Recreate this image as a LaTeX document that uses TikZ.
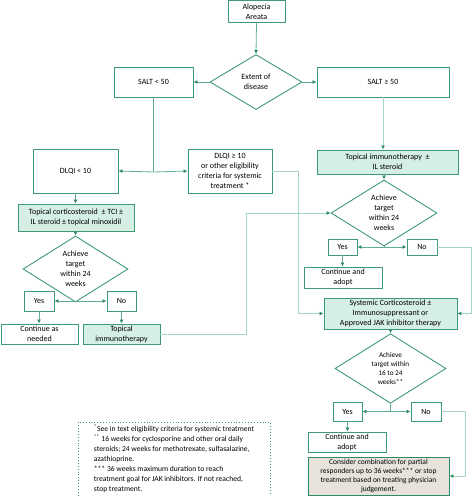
\documentclass[tikz,border=0pt]{standalone}
\usepackage{fontspec}
\setmainfont{Carlito}
\usetikzlibrary{arrows.meta,shapes.geometric,calc}
\definecolor{frameg}{HTML}{3E9A76}
\definecolor{arrowg}{HTML}{2E8A66}
\definecolor{lineg}{HTML}{5FAE8E}
\definecolor{paleg}{HTML}{A3D6C2}
\definecolor{fillg}{HTML}{D6EFE4}
\definecolor{beige}{HTML}{E7E3DB}
\tikzset{
  box/.style={draw=frameg, line width=0.9pt, rectangle, inner sep=1pt, align=center,
    font=\fontsize{8}{10}\selectfont},
  fbox/.style={box, fill=fillg},
  dia/.style={draw=frameg, line width=0.9pt, diamond, inner sep=0pt, align=center,
    font=\fontsize{8}{10}\selectfont},
  con/.style={draw=lineg, line width=0.8pt, -{Latex[length=4pt,width=4pt,color=arrowg]}},
  conp/.style={draw=paleg, line width=0.8pt, -{Latex[length=4pt,width=4pt,color=arrowg]}},
  seg/.style={draw=lineg, line width=0.8pt},
}
\begin{document}
\begin{tikzpicture}[x=1pt,y=-1pt]
\useasboundingbox (0,0) rectangle (474,496);
% boxes
\node[box, minimum width=57pt, minimum height=22pt] (aa) at (256.5,11.8) {Alopecia\\Areata};
\node[dia, minimum width=92pt, minimum height=55pt] (ext) at (256,82) {Extent of\\disease};
\node[box, minimum width=79pt, minimum height=30pt] (salt1) at (153.5,82) {SALT < 50};
\node[box, minimum width=132pt, minimum height=30pt] (salt2) at (383,82) {SALT ≥ 50};
\node[box, minimum width=85pt, minimum height=44pt] (dlqi1) at (75.5,171) {DLQI < 10};
\node[box, minimum width=84pt, minimum height=44pt] (dlqi2) at (230,171) {DLQI ≥ 10\\or other eligibility\\criteria for systemic\\treatment *};
\node[fbox, minimum width=116pt, minimum height=27pt] (tc) at (76,217.5) {Topical corticosteroid\ \ ± TCI ±\\IL steroid ± topical minoxidil};
\node[dia, minimum width=105pt, minimum height=54pt] (d1) at (75.5,269) {Achieve\\target\\within 24\\weeks};
\node[box, minimum width=30pt, minimum height=20pt] (yes1) at (39,301) {Yes};
\node[box, minimum width=29pt, minimum height=20pt] (no1) at (121.5,301) {No};
\node[box, minimum width=77pt, minimum height=20pt] (cont1) at (39.5,334) {Continue as\\needed};
\node[fbox, minimum width=77pt, minimum height=20pt] (ti1) at (121.5,334) {Topical\\immunotherapy};
\node[fbox, minimum width=141pt, minimum height=24pt] (til) at (387.5,162) {Topical immunotherapy\ \ ±\\IL steroid};
\node[dia, minimum width=106pt, minimum height=52pt] (d2) at (384,213) {Achieve\\target\\within 24\\weeks};
\node[box, minimum width=29pt, minimum height=16pt] (yes2) at (342.5,247) {Yes};
\node[box, minimum width=30pt, minimum height=16pt] (no2) at (422,247) {No};
\node[box, minimum width=78pt, minimum height=21pt] (cont2) at (343,277.5) {Continue and\\adopt};
\node[fbox, minimum width=133pt, minimum height=31pt] (sys) at (390.5,313.5) {Systemic Corticosteroid ±\\Immunosuppressant or\\Approved JAK inhibitor therapy};
\node[dia, minimum width=111pt, minimum height=55pt, font=\fontsize{7.2}{9}\selectfont] (d3) at (390.5,368.5) {Achieve\\target within\\16 to 24\\weeks**};
\node[box, minimum width=29pt, minimum height=19pt] (yes3) at (347.5,411.5) {Yes};
\node[box, minimum width=30pt, minimum height=19pt] (no3) at (426,411.5) {No};
\node[box, minimum width=78pt, minimum height=20pt] (cont3) at (347,442) {Continue and\\adopt};
\node[box, draw=arrowg, fill=beige, minimum width=141pt, minimum height=38pt, font=\fontsize{7.5}{9}\selectfont] (cons) at (378.5,476) {Consider combination for partial\\responders up to 36 weeks*** or stop\\treatment based on treating physician\\judgement.};
\node[box, dotted, line width=1pt, align=left, inner sep=2pt, minimum width=192pt, minimum height=74pt, font=\fontsize{7.6}{10}\selectfont] (foot) at (174,459) {\textsuperscript{*}See in text eligibility criteria for systemic treatment\\\textsuperscript{**} 16 weeks for cyclosporine and other oral daily\\steroids; 24 weeks for methotrexate, sulfasalazine,\\azathioprine.\\*** 36 weeks maximum duration to reach\\treatment goal for JAK inhibitors. If not reached,\\stop treatment.};
% junction coordinates
\coordinate (j1) at (153.5,172);
\coordinate (j2) at (75.5,301);
\coordinate (j3) at (384,247);
\coordinate (j4) at (390.5,411.5);
\coordinate (c1) at (246,213);
\coordinate (c2) at (298,313.5);
\coordinate (c3) at (471,313.5);
\coordinate (c4) at (465,476);
% connectors
\draw[con] (aa.south) -- (ext.north);
\draw[con] (ext.west) -- (salt1.east);
\draw[con] (ext.east) -- (salt2.west);
\draw[seg] (salt1.south) -- (j1);
\draw[con] (j1) -- (dlqi1.east);
\draw[con] (j1) -- (dlqi2.west);
\draw[conp] (salt2.south) -- (salt2.south |- til.north);
\draw[con] (dlqi1.south) -- (dlqi1.south |- tc.north);
\draw[con] (tc.south -| d1.north) -- (d1.north);
\draw[seg] (d1.south) -- (j2);
\draw[con] (j2) -- (yes1.east);
\draw[con] (j2) -- (no1.west);
\draw[con] (yes1.south) -- (cont1.north -| yes1.south);
\draw[con] (no1.south) -- (ti1.north);
\draw[conp] (ti1.east) -| (c1) -- (d2.west);
\draw[conp] (dlqi2.east) -| (c2) -- (sys.west);
\draw[con] (til.south -| d2.north) -- (d2.north);
\draw[seg] (d2.south) -- (j3);
\draw[con] (j3) -- (yes2.east);
\draw[con] (j3) -- (no2.west);
\draw[con] (yes2.south) -- (yes2.south |- cont2.north);
\draw[conp] (no2.east) -| (c3) -- (sys.east);
\draw[con] (sys.south) -- (d3.north);
\draw[seg] (d3.south) -- (j4);
\draw[con] (j4) -- (yes3.east);
\draw[con] (j4) -- (no3.west);
\draw[con] (yes3.south) -- (yes3.south |- cont3.north);
\draw[conp] (no3.east) -| (c4) -- (cons.east);
\end{tikzpicture}
\end{document}
